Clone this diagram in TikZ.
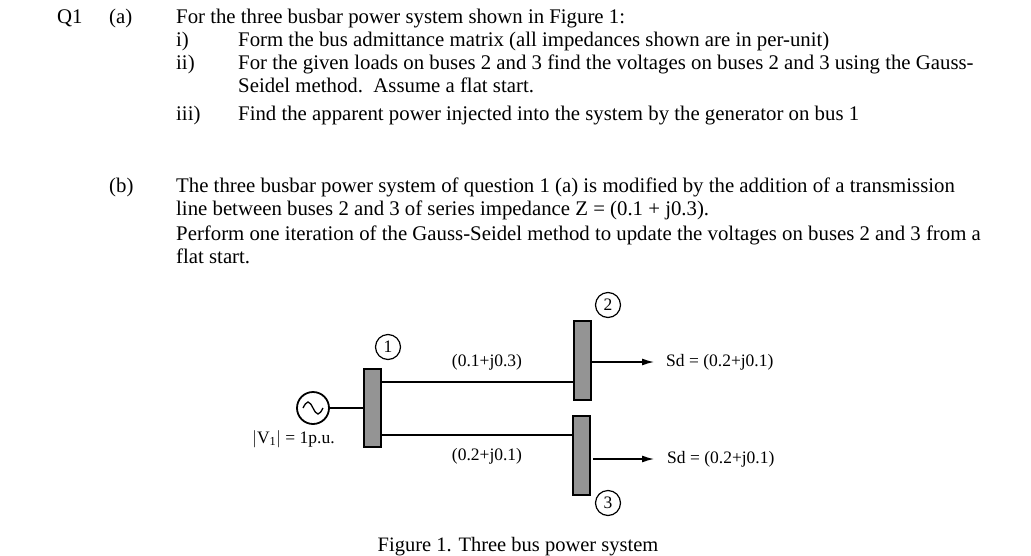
\documentclass[tikz,border=0pt]{standalone}
\usepackage{fontspec}
\setmainfont{Liberation Serif}
\usetikzlibrary{arrows.meta}
\begin{document}
\begin{tikzpicture}[x=1pt,y=-1pt,
  txt/.style={anchor=base west,inner sep=0pt,font=\fontsize{20.8}{24}\selectfont},
  dtxt/.style={inner sep=0pt,font=\fontsize{17.5}{20}\selectfont},
  bus/.style={draw,line width=2pt,fill=black!42,minimum width=17pt,minimum height=79pt,inner sep=0pt},
  num/.style={draw,circle,line width=1.2pt,minimum size=25pt,inner sep=0pt,font=\fontsize{17.5}{20}\selectfont},
  ln/.style={line width=2pt}]
\useasboundingbox (0,0) rectangle (1031,555);
\node[txt] (q) at (57,23) {Q1};
\node[txt] (a) at (109,23) {(a)};
\node[txt] (l1) at (176,23) {For the three busbar power system shown in Figure 1:};
\node[txt] (r1) at (176,46) {i)};
\node[txt] (t1) at (238,46) {Form the bus admittance matrix (all impedances shown are in per-unit)};
\node[txt] (r2) at (176,69) {ii)};
\node[txt] (t2) at (238,69) {For the given loads on buses 2 and 3 find the voltages on buses 2 and 3 using the Gauss-};
\node[txt] (t2b) at (238,92) {Seidel method.\ \ Assume a flat start.};
\node[txt] (r3) at (176,120) {iii)};
\node[txt] (t3) at (238,120) {Find the apparent power injected into the system by the generator on bus 1};
\node[txt] (b) at (109,192) {(b)};
\node[txt] (b1) at (176,192) {The three busbar power system of question 1 (a) is modified by the addition of a transmission};
\node[txt] (b2) at (176,215) {line between buses 2 and 3 of series impedance Z = (0.1 + j0.3).};
\node[txt] (b3) at (176,240) {Perform one iteration of the Gauss-Seidel method to update the voltages on buses 2 and 3 from a};
\node[txt] (b4) at (176,263) {flat start.};
% diagram
\node[bus,minimum height=78pt] (B1) at (372.5,408) {};
\node[bus] (B2) at (582.5,360.5) {};
\node[bus] (B3) at (581.5,455.5) {};
\node[draw,circle,line width=1.8pt,minimum size=32pt,inner sep=0pt] (G) at (313,408) {};
\draw[line width=1.3pt] ([xshift=-10pt]G.center) sin ++(5,-6) cos ++(5,6) sin ++(5,6) cos ++(5,-6);
\draw[ln] (G.east) -- (B1.west|-G.east);
\coordinate (c1) at (381,382); \coordinate (c2) at (574,382);
\draw[ln] (c1) -- (c2);
\coordinate (c3) at (381,435); \coordinate (c4) at (573,435);
\draw[ln] (c3) -- (c4);
\node[num] (n1) at (388,347) {1};
\node[num] (n2) at (608,305) {2};
\node[num] (n3) at (608,503) {3};
\node[dtxt] (z1) at (487,362) {(0.1+j0.3)};
\node[dtxt] (z2) at (487,456) {(0.2+j0.1)};
\node[dtxt,anchor=west] (s2) at (666,362) {Sd = (0.2+j0.1)};
\node[dtxt,anchor=west] (s3) at (667,459) {Sd = (0.2+j0.1)};
\draw[line width=1.3pt,-{Latex[length=12pt,width=7pt]}] (B2.east|-s2.west) -- (654,362);
\draw[line width=1.3pt,-{Latex[length=12pt,width=7pt]}] (593,459) -- (654,459);
\node[dtxt,anchor=west] (v) at (252,439) {$|$V\textsubscript{1}$|$ = 1p.u.};
\node[inner sep=0pt,font=\fontsize{20.5}{22}\selectfont] (cap) at (518,547) {Figure 1. Three bus power system};
\end{tikzpicture}
\end{document}
